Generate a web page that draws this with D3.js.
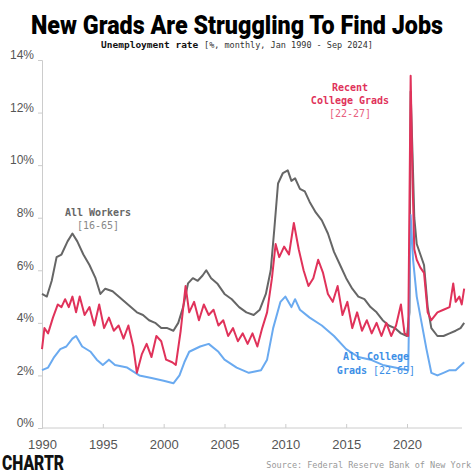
<!DOCTYPE html>
<html><head><meta charset="utf-8">
<script src="https://cdn.jsdelivr.net/npm/d3@7"></script>
<style>body{margin:0;background:#fff}</style></head>
<body><svg id="c" width="474" height="474"></svg>
<script>
const allWorkers=[[1990,5.1],[1990.4,5.0],[1990.8,5.6],[1991.2,6.5],[1991.6,6.6],[1992.1,7.1],[1992.5,7.4],[1992.9,7.1],[1993.4,6.6],[1993.9,6.2],[1994.4,5.7],[1994.8,5.1],[1995.2,5.3],[1995.8,5.2],[1996.3,5.0],[1996.8,4.8],[1997.3,4.6],[1997.8,4.4],[1998.3,4.3],[1998.8,4.1],[1999.3,4.0],[1999.8,3.8],[2000.3,3.8],[2000.8,3.7],[2001.2,4.0],[2001.6,4.6],[2002.0,5.5],[2002.4,5.7],[2002.8,5.6],[2003.2,5.8],[2003.5,6.0],[2003.9,5.7],[2004.4,5.5],[2005.0,5.1],[2005.6,4.9],[2006.2,4.6],[2006.8,4.4],[2007.4,4.3],[2007.9,4.5],[2008.4,5.1],[2008.8,6.0],[2009.1,7.6],[2009.4,9.3],[2009.8,9.7],[2010.2,9.8],[2010.5,9.4],[2010.8,9.5],[2011.2,9.1],[2011.6,9.0],[2012.0,8.6],[2012.5,8.2],[2013.0,7.9],[2013.5,7.4],[2014.0,6.7],[2014.5,6.2],[2015.0,5.7],[2015.5,5.3],[2016.0,5.0],[2016.5,4.9],[2017.0,4.6],[2017.5,4.4],[2018.0,4.1],[2018.5,3.9],[2019.0,3.8],[2019.5,3.6],[2020.0,3.5],[2020.2,4.4],[2020.3,12.8],[2020.45,10.5],[2020.6,8.0],[2020.8,7.0],[2021.1,6.6],[2021.4,6.2],[2021.7,4.6],[2022.0,3.8],[2022.5,3.5],[2023.0,3.5],[2023.5,3.6],[2024.0,3.7],[2024.4,3.8],[2024.7,4.0]];
const recentGrads=[[1990,3.0],[1990.2,3.8],[1990.5,3.6],[1990.9,4.2],[1991.3,4.7],[1991.6,4.6],[1991.9,4.9],[1992.2,4.6],[1992.5,5.0],[1992.8,4.4],[1993.1,5.0],[1993.5,4.3],[1993.9,4.6],[1994.3,3.9],[1994.7,4.7],[1995.1,3.8],[1995.5,4.2],[1995.9,3.7],[1996.3,3.9],[1996.7,3.4],[1997.1,3.9],[1997.5,3.1],[1997.8,2.1],[1998.2,2.8],[1998.6,3.2],[1999.0,2.7],[1999.4,3.5],[1999.8,3.3],[2000.2,2.6],[2000.7,2.5],[2001.0,2.4],[2001.4,3.7],[2001.8,5.4],[2002.1,4.4],[2002.5,4.8],[2002.9,4.1],[2003.3,4.7],[2003.7,4.3],[2004.1,4.5],[2004.5,3.9],[2004.9,4.1],[2005.3,3.5],[2005.7,3.8],[2006.1,3.3],[2006.5,3.6],[2006.9,3.2],[2007.3,3.6],[2007.7,3.1],[2008.1,3.8],[2008.5,4.4],[2008.9,5.7],[2009.2,7.0],[2009.5,6.5],[2009.9,6.9],[2010.3,6.6],[2010.7,7.8],[2011.1,6.8],[2011.5,6.0],[2011.9,5.4],[2012.3,5.7],[2012.7,6.4],[2013.1,5.9],[2013.5,5.1],[2013.9,4.8],[2014.3,5.4],[2014.7,4.3],[2015.1,4.8],[2015.5,3.8],[2015.9,4.4],[2016.3,3.7],[2016.7,4.1],[2017.1,3.6],[2017.5,4.0],[2017.9,3.5],[2018.3,4.0],[2018.7,3.5],[2019.1,3.9],[2019.5,4.7],[2019.8,3.6],[2020.1,3.5],[2020.3,13.4],[2020.45,9.5],[2020.6,6.8],[2020.8,6.4],[2021.1,6.1],[2021.4,5.9],[2021.7,4.4],[2022.0,4.1],[2022.5,4.4],[2023.0,4.5],[2023.5,4.6],[2023.8,5.5],[2024.0,4.8],[2024.3,5.0],[2024.5,4.7],[2024.7,5.3]];
const collegeGrads=[[1990,2.2],[1990.5,2.3],[1991.0,2.7],[1991.5,3.0],[1992.0,3.1],[1992.5,3.4],[1992.8,3.5],[1993.3,3.1],[1994.0,2.9],[1994.5,2.6],[1995.0,2.4],[1995.5,2.6],[1996.0,2.4],[1997.0,2.3],[1998.0,2.0],[1999.0,1.9],[2000.0,1.8],[2000.8,1.7],[2001.3,2.0],[2001.7,2.5],[2002.1,2.9],[2003.0,3.1],[2003.7,3.2],[2004.5,2.9],[2005.0,2.6],[2006.0,2.3],[2007.0,2.1],[2008.0,2.2],[2008.5,2.6],[2009.0,3.8],[2009.6,4.8],[2010.0,5.0],[2010.5,4.6],[2010.8,4.9],[2011.2,4.5],[2012.0,4.2],[2013.0,3.9],[2014.0,3.5],[2015.0,3.0],[2016.0,2.7],[2017.0,2.6],[2018.0,2.4],[2019.0,2.3],[2020.1,2.2],[2020.3,8.1],[2020.5,6.4],[2020.8,5.0],[2021.2,4.0],[2021.6,3.0],[2022.0,2.1],[2022.5,2.0],[2023.0,2.1],[2023.5,2.2],[2024.0,2.2],[2024.7,2.5]];
const yTicks=[0,2,4,6,8,10,12,14];
const xTicks=[1990,1995,2000,2005,2010,2015,2020];

const svg=d3.select("#c");
const x=d3.scaleLinear().domain([1990,2020]).range([42,407]);
const y=d3.scaleLinear().domain([0,14]).range([428,60]);
const mono="'DejaVu Sans Mono', monospace", sans="'Liberation Sans', Arial, sans-serif";

svg.append("text").attr("x",237).attr("y",34).attr("text-anchor","middle")
 .attr("font-family","Roboto, sans-serif").attr("font-weight",900).attr("font-size",26)
 .attr("textLength",412).attr("lengthAdjust","spacingAndGlyphs").text("New Grads Are Struggling To Find Jobs");
const sub=svg.append("text").attr("x",237).attr("y",48).attr("text-anchor","middle")
 .attr("font-family",mono).attr("font-size",9.5);
sub.append("tspan").attr("font-weight","bold").attr("fill","#111").text("Unemployment rate ");
sub.append("tspan").attr("fill","#333").attr("font-size",8.5).text("[%, monthly, Jan 1990 - Sep 2024]");

const ya=svg.append("g").attr("transform","translate(42,0)")
 .call(d3.axisLeft(y).tickValues(yTicks).tickSize(4).tickFormat(d=>d+"%"));
ya.select(".domain").attr("stroke","#ccc");
ya.selectAll(".tick line").attr("stroke","#ccc");
ya.selectAll("text").attr("font-family",sans).attr("font-size",12).attr("fill","#555").attr("x",-8).attr("dy","-0.1em");
const xa=svg.append("g").attr("transform","translate(0,428)")
 .call(d3.axisBottom(x).tickValues(xTicks).tickSize(4).tickFormat(d3.format("d")));
xa.select(".domain").attr("stroke","#ccc").attr("d","M42,0H462");
xa.selectAll(".tick line").attr("stroke","#ccc").attr("y1",-4).attr("y2",0);
xa.selectAll("text").attr("font-family",sans).attr("font-size",13).attr("fill","#555").attr("dy","1.1em");

const line=d3.line().x(d=>x(d[0])).y(d=>y(d[1]));
[[allWorkers,"#666"],[collegeGrads,"#6aaaf0"],[recentGrads,"#e0325a"]].forEach(([d,c])=>{
 svg.append("path").datum(d).attr("d",line).attr("fill","none").attr("stroke",c).attr("stroke-width",2).attr("stroke-linejoin","round");
});

function lab(x0,y0,lines){lines.forEach((l,i)=>svg.append("text").attr("x",x0).attr("y",y0+i*13).attr("text-anchor","middle")
 .attr("font-family",mono).attr("font-size",10).attr("font-weight",l[2]?"bold":"normal").attr("fill",l[1]).text(l[0]));}
lab(98,216,[["All Workers","#666",1],["[16-65]","#888",0]]);
lab(350,91,[["Recent","#e0325a",1],["College Grads","#e0325a",1],["[22-27]","#e86080",0]]);
lab(376,360,[["All College","#3d8fe6",1]]);
const t=svg.append("text").attr("x",376).attr("y",374).attr("text-anchor","middle").attr("font-family",mono).attr("font-size",10);
t.append("tspan").attr("font-weight","bold").attr("fill","#3d8fe6").text("Grads ");
t.append("tspan").attr("fill","#3d8fe6").text("[22-65]");

svg.append("text").attr("x",2).attr("y",470).attr("font-family","Roboto, sans-serif").attr("font-weight",900)
 .attr("font-size",20).attr("textLength",62).attr("lengthAdjust","spacingAndGlyphs").attr("fill","#111").text("CHARTR");
svg.append("text").attr("x",471).attr("y",468).attr("text-anchor","end").attr("font-family",mono).attr("font-size",8.5)
 .attr("fill","#999").text("Source: Federal Reserve Bank of New York");
</script></body></html>
